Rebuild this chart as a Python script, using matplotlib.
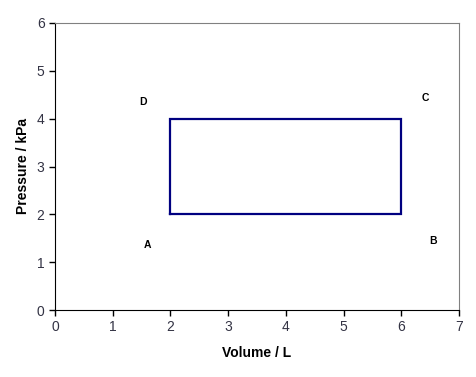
import matplotlib
matplotlib.use("Agg")
import matplotlib.pyplot as plt

plt.rcParams['font.family'] = ['Liberation Sans', 'DejaVu Sans']

# cycle corners A -> B -> C -> D -> A
cycle_v = [2, 6, 6, 2, 2]
cycle_p = [2, 2, 4, 4, 2]

# point labels and where they sit
point_names = ["A", "B", "C", "D"]
point_v = [1.6, 6.55, 6.42, 1.52]
point_p = [1.35, 1.44, 4.43, 4.35]

fig = plt.figure(figsize=(4.76, 3.77), dpi=100)
ax = fig.add_axes([55/476, 1 - 310/377, 404/476, 287/377])

ax.plot(cycle_v, cycle_p, color="#000080", linewidth=1.6, solid_joinstyle="miter")
for name, v, p in zip(point_names, point_v, point_p):
    ax.text(v, p, name, fontsize=7.5, fontweight="bold", ha="center", va="center")

ax.set_xlim(0, 7)
ax.set_ylim(0, 6)
ax.set_xticks(range(0, 8))
ax.set_yticks(range(0, 7))
ax.tick_params(direction="out", length=4, width=1, colors="black",
               labelsize=10, labelcolor="#333344")
ax.spines["left"].set_color("black")
ax.spines["bottom"].set_color("black")
ax.spines["top"].set_color("#808080")
ax.spines["right"].set_color("#808080")
ax.set_xlabel("Volume / L", fontsize=10, fontweight="bold", labelpad=8)
ax.set_ylabel("Pressure / kPa", fontsize=10, fontweight="bold", labelpad=5)

fig.savefig("out.png", dpi=100)
